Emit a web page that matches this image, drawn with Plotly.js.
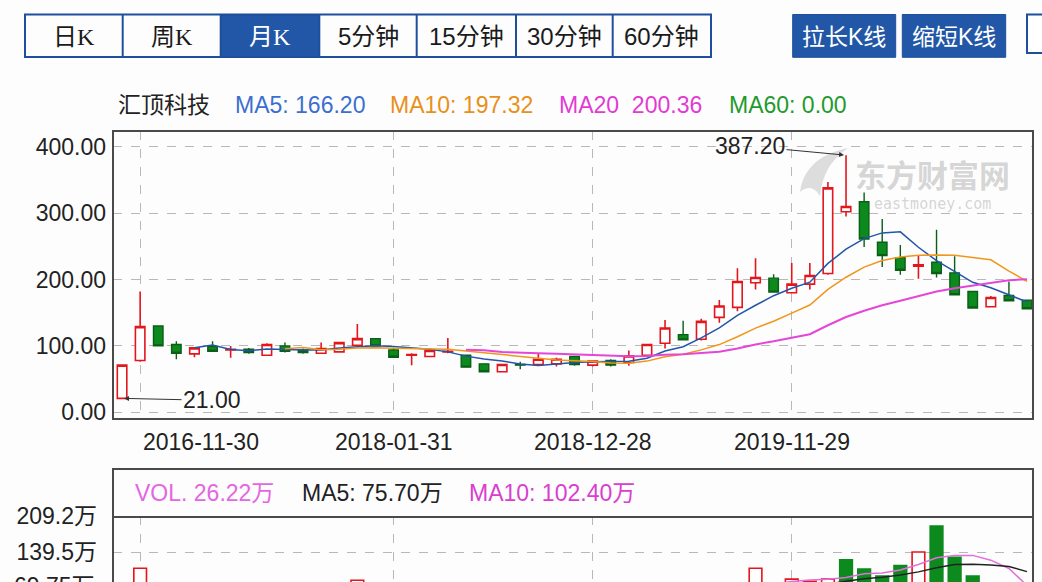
<!DOCTYPE html>
<html><head><meta charset="utf-8">
<script src="https://cdn.plot.ly/plotly-3.0.1.min.js"></script>
<style>html,body{margin:0;padding:0;background:#fdfdfd;overflow:hidden}#chart{width:1042px;height:582px}</style>
</head><body><div id="chart"></div>
<script>
// ---------- data ----------
const months = ['2016-10','2016-11','2016-12',
 '2017-01','2017-02','2017-03','2017-04','2017-05','2017-06','2017-07','2017-08','2017-09','2017-10','2017-11','2017-12',
 '2018-01','2018-02','2018-03','2018-04','2018-05','2018-06','2018-07','2018-08','2018-09','2018-10','2018-11','2018-12',
 '2019-01','2019-02','2019-03','2019-04','2019-05','2019-06','2019-07','2019-08','2019-09','2019-10','2019-11','2019-12',
 '2020-01','2020-02','2020-03','2020-04','2020-05','2020-06','2020-07','2020-08','2020-09','2020-10','2020-11','2020-12'];
const openP  = [21,78,130,102,88,99,94,95,86,100,94,89,91,101,111,94,86,84,91,86,73,61,72,72,73,84,71,78,75,86,104,117,110,143,158,195,202,180,193,209,302,317,256,233,220,226,210,182,159,176,169];
const highP  = [71,182,131,107,98,107,100,97,104,105,96,105,106,133,112,96,89,94,112,87,74,73,76,89,82,85,78,80,93,103,139,138,141,169,217,232,208,225,225,347,387.2,331,291,252,237,275,235,183,175,197,170];
const lowP   = [21,76,99,80,83,91,82,88,85,90,88,88,90,99,99,82,71,83,89,67,60,60,65,71,69,70,69,69,70,84,96,108,108,135,152,185,180,179,185,207,295,249,219,207,201,203,176,156,158,167,155];
const closeP = [71,129,100,89,97,92,95,90,102,92,90,96,105,111,100,83,87,93,92,68,61,72,71,80,80,72,77,71,85,102,127,109,137,160,197,203,181,193,206,338,310,261,236,214,222,209,177,157,173,168,156];
// volume in 万
const volume = [20,109,72,45,38,35,30,25,32,28,24,30,40,86,55,42,35,38,50,48,40,36,30,33,35,38,32,36,45,52,72,60,65,70,80,109,70,88,84,88,125,107.5,94,114,140,190,130,94,68,60.3,26.22];

const tickMonths = ['2016-11','2018-01','2018-12','2019-11'];
const tickLabels = ['2016-11-30','2018-01-31','2018-12-28','2019-11-29'];
const priceTicks = [0,100,200,300,400];
const volTicks = [209.2,139.5];
const volTickLabels = ['209.2万','139.5万'];
const stockName = '汇顶科技';
const periodButtons = ['日','周','月','5分钟','15分钟','30分钟','60分钟'];
const periodSuffix = ['K','K','K','','','',''];
const zoomButtons = ['拉长K线','缩短K线'];
const priceHeader = ['MA5: 166.20','MA10: 197.32','MA20  200.36','MA60: 0.00'];
const volHeader = ['VOL. 26.22万','MA5: 75.70万','MA10: 102.40万'];

// ---------- helpers ----------
const W=1042,H=582;
const px=x=>x/W, py=y=>1-y/H;
const FONT='Liberation Sans, Arial, Noto Sans CJK SC, sans-serif';
function ma(arr,n){return arr.map((v,i)=>i<n-1?null:arr.slice(i-n+1,i+1).reduce((a,b)=>a+b,0)/n);}
const RED='#e3161d', GREEN='#0d8a1d', GREEN_D='#0b5e16';

const volUp = volume.map((v,i)=> i===0 ? true : closeP[i]>=closeP[i-1]);

const traces = [
 {type:'candlestick',x:months,open:openP,high:highP,low:lowP,close:closeP,xaxis:'x',yaxis:'y',
  increasing:{line:{color:RED,width:1.6},fillcolor:'#ffffff'},
  decreasing:{line:{color:GREEN_D,width:1.4},fillcolor:GREEN},
  whiskerwidth:0,showlegend:false,hoverinfo:'skip'},
 {type:'scatter',mode:'lines',x:months,y:ma(closeP,5),line:{color:'#2256a8',width:1.5},xaxis:'x',yaxis:'y',showlegend:false,hoverinfo:'skip'},
 {type:'scatter',mode:'lines',x:months,y:ma(closeP,10),line:{color:'#f0961c',width:1.5},xaxis:'x',yaxis:'y',showlegend:false,hoverinfo:'skip'},
 {type:'scatter',mode:'lines',x:months,y:ma(closeP,20),line:{color:'#e546d8',width:2},xaxis:'x',yaxis:'y',showlegend:false,hoverinfo:'skip'},
 {type:'bar',x:months,y:volume,width:0.7,xaxis:'x2',yaxis:'y2',
  marker:{color:volUp.map(u=>u?'#ffffff':GREEN),line:{color:volUp.map(u=>u?RED:GREEN),width:1.6}},showlegend:false,hoverinfo:'skip'},
 {type:'scatter',mode:'lines',x:months,y:ma(volume,5),line:{color:'#e070dc',width:1.5},xaxis:'x2',yaxis:'y2',showlegend:false,hoverinfo:'skip'},
 {type:'scatter',mode:'lines',x:months,y:ma(volume,10),line:{color:'#222222',width:1.5},xaxis:'x2',yaxis:'y2',showlegend:false,hoverinfo:'skip'}
];

const gridCol='#b8b8b8';
const xbase={type:'category',categoryorder:'array',categoryarray:months,domain:[px(113),px(1033)],range:[-0.5,50.33],
 tickvals:tickMonths,showticklabels:false,ticks:'',showgrid:true,gridcolor:gridCol,griddash:'dash',gridwidth:1,
 zeroline:false,showline:false,fixedrange:true,rangeslider:{visible:false}};

const shapes=[], annotations=[];
function rectPx(x0,y0,x1,y1,line,fill,layer){shapes.push({type:'rect',xref:'paper',yref:'paper',x0:px(x0),x1:px(x1),y0:py(y1),y1:py(y0),line:line,fillcolor:fill||'rgba(0,0,0,0)',layer:layer||'above'});}
function linePx(x0,y0,x1,y1,line){shapes.push({type:'line',xref:'paper',yref:'paper',x0:px(x0),x1:px(x1),y0:py(y0),y1:py(y1),line:line,layer:'above'});}
function textPx(t,x,y,opts){annotations.push(Object.assign({text:t,xref:'paper',yref:'paper',x:px(x),y:py(y),showarrow:false,xanchor:'left',yanchor:'middle',font:{family:FONT,size:23,color:'#222'}},opts||{}));}

// borders
rectPx(113,131,1033,419,{color:'#4a4a4a',width:2});
rectPx(113,469,1033,620,{color:'#4a4a4a',width:2});
linePx(113,517,1033,517,{color:'#4a4a4a',width:2});

// period buttons
const BLUE='#2157a6', BLUE_L='#1d4f9c';
const edges=[25,122.7,220.7,319.3,416.7,516,612.7,711];
rectPx(220.7,14.5,319.3,57,{width:0},BLUE);
rectPx(25,14.5,711,57,{color:BLUE_L,width:2});
for(let i=1;i<edges.length-1;i++) linePx(edges[i],14.5,edges[i],57,{color:BLUE_L,width:2});
periodButtons.forEach((t,i)=>{
 const txt = periodSuffix[i] ? t+'<span style="font-family:Liberation Serif,DejaVu Serif,serif;font-size:24px">'+periodSuffix[i]+'</span>' : t;
 textPx(txt,(edges[i]+edges[i+1])/2,36.5,{xanchor:'center',font:{family:FONT,size:24,color:i===2?'#ffffff':'#1a1a1a'}});
});
const zb=[[792.7,895.7],[902.3,1005.7]];
zoomButtons.forEach((t,i)=>{rectPx(zb[i][0],14.5,zb[i][1],57.3,{color:BLUE_L,width:1},BLUE);
 textPx(t,(zb[i][0]+zb[i][1])/2,36.5,{xanchor:'center',font:{family:FONT,size:23,color:'#ffffff'}});});
rectPx(1027,14.5,1070,53,{color:BLUE_L,width:2},'#ffffff');

// price header
textPx(stockName,116,105,{font:{family:FONT,size:23,color:'#222'}});
const phX=[233,388,557,727], phC=['#3b6fd0','#e8901a','#e23ad4','#1f9a2e'];
priceHeader.forEach((t,i)=>textPx(t,phX[i],105,{font:{family:FONT,size:23,color:phC[i]}}));

// volume header
const vhX=[133,300,467], vhC=['#e466e2','#222222','#d83fd0'];
volHeader.forEach((t,i)=>textPx(t,vhX[i],493,{font:{family:FONT,size:23,color:vhC[i]}}));
textPx('69.75万',97,586,{xanchor:'right',font:{family:FONT,size:23,color:'#222'}});

// x tick labels
tickMonths.forEach((m,i)=>annotations.push({text:tickLabels[i],xref:'x',yref:'paper',x:m,y:py(441.7),showarrow:false,
 xanchor:i===0?'left':'center',xshift:i===0?1:0,yanchor:'middle',font:{family:FONT,size:23,color:'#222'}}));

// high / low marks
const hiIdx=highP.indexOf(Math.max(...highP)), loIdx=lowP.indexOf(Math.min(...lowP));
annotations.push({text:highP[hiIdx].toFixed(2),xref:'x',yref:'y',x:months[hiIdx],y:highP[hiIdx],showarrow:true,ax:-96,ay:-9,
 arrowhead:2,arrowsize:1,arrowwidth:1,arrowcolor:'#333',standoff:2,font:{family:FONT,size:23,color:'#222'}});
annotations.push({text:lowP[loIdx].toFixed(2),xref:'x',yref:'y',x:months[loIdx],y:lowP[loIdx],showarrow:true,ax:90,ay:2,
 arrowhead:2,arrowsize:1,arrowwidth:1,arrowcolor:'#333',standoff:2,font:{family:FONT,size:23,color:'#222'}});

// watermark
textPx('东方财富网',932,173,{xanchor:'center',font:{family:'Noto Sans CJK SC',size:31,color:'rgba(150,150,150,0.4)',weight:700}});
textPx('eastmoney.com',932,204,{xanchor:'center',font:{family:'DejaVu Sans Mono',size:15,color:'rgba(150,150,150,0.4)'}});
function pathPx(d){return d.replace(/(-?[\d.]+) (-?[\d.]+)/g,(m,a,b)=>px(+a).toFixed(5)+' '+py(+b).toFixed(5));}
shapes.push({type:'path',xref:'paper',yref:'paper',layer:'below',path:pathPx('M 800 192 C 803 170 818 154 848 148 C 830 160 822 176 820 196 C 814 186 807 186 800 192 Z'),
 fillcolor:'rgba(160,160,160,0.35)',line:{width:0}});

const layout={width:W,height:H,margin:{l:0,r:0,t:0,b:0},paper_bgcolor:'#fdfdfd',plot_bgcolor:'#fdfdfd',
 showlegend:false,dragmode:false,boxgap:0.25,
 xaxis:Object.assign({},xbase,{anchor:'y'}),
 xaxis2:Object.assign({},xbase,{anchor:'y2'}),
 yaxis:{domain:[py(419),py(131)],range:[(412.3-419)/0.664,(412.3-131)/0.664],tickvals:priceTicks,tickformat:'.2f',
  showgrid:true,gridcolor:gridCol,griddash:'dash',zeroline:false,ticks:'',ticklabelstandoff:6,
  tickfont:{family:FONT,size:23,color:'#222'},fixedrange:true,anchor:'x'},
 yaxis2:{domain:[0,py(516)],range:[82.5,209.25],tickvals:volTicks,ticktext:volTickLabels,
  showgrid:true,gridcolor:gridCol,griddash:'dash',zeroline:false,ticks:'',ticklabelstandoff:15,
  tickfont:{family:FONT,size:23,color:'#222'},fixedrange:true,anchor:'x2'},
 shapes:shapes,annotations:annotations};

Plotly.newPlot('chart',traces,layout,{staticPlot:true,displayModeBar:false});
</script></body></html>
